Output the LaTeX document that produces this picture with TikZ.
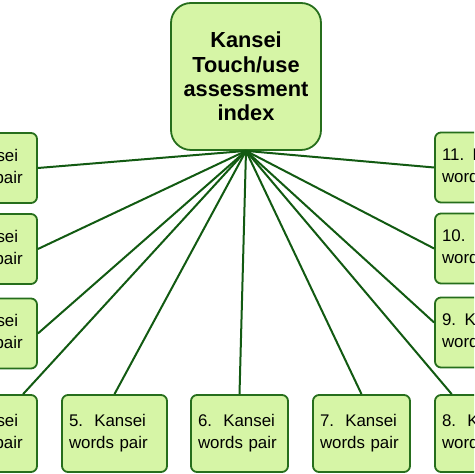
\documentclass[tikz,border=0pt]{standalone}
\usepackage{fontspec}
\setmainfont{Liberation Sans}
\usepackage{tikz}
\definecolor{verdechiaro}{RGB}{214,245,166}
\definecolor{verdebordo}{RGB}{38,110,28}
\definecolor{verdelinea}{RGB}{18,90,18}

\begin{document}
\begin{tikzpicture}
\tikzstyle{coppia} = [draw=verdebordo, line width=0.09cm, fill=verdechiaro, rounded corners=0.3cm, minimum width=5cm, minimum height=3.5cm, text width=4.3cm, inner xsep=0.35cm, align=left, font=\fontsize{24}{31}\selectfont]
\tikzstyle{basso} = [coppia, minimum width=4.85cm, text width=4.15cm, minimum height=3.85cm]
\tikzstyle{ramo} = [draw=verdelinea, line width=0.1cm]
\clip (0,0) rectangle (23.7,23.7);
\node[draw=verdebordo, line width=0.09cm, fill=verdechiaro, rounded corners=1cm, minimum width=7.5cm, minimum height=7.35cm, align=center, font=\bfseries\fontsize{31}{34.5}\selectfont] (v0) at (12.3,19.875) {Kansei\\Touch/use\\assessment\\index};
% colonna sinistra
\node[coppia] (v1) at (-0.65,15.3) {1. Kansei\\words pair};
\node[coppia] (v2) at (-0.65,11.25) {2. Kansei\\words pair};
\node[coppia] (v3) at (-0.65,7.025) {3. Kansei\\words pair};
\node[basso, minimum width=5cm, text width=4.3cm] (v4) at (-0.65,2.025) {4. Kansei\\words pair};
% riga in basso
\node[basso, minimum width=5.25cm, text width=4.55cm] (v5) at (5.725,2.025) {5.\ \ Kansei\\words pair};
\node[basso] (v6) at (11.975,2.025) {6.\ \ Kansei\\words pair};
\node[basso] (v7) at (18.075,2.025) {7.\ \ Kansei\\words pair};
\node[basso, minimum width=5cm, text width=4.3cm] (v8) at (24.25,2.025) {8.\ \ Kansei\\words pair};
% colonna destra
\node[coppia] (v9) at (24.25,7.075) {9. Kansei\\words pair};
\node[coppia] (v10) at (24.25,11.275) {10. Kansei\\words pair};
\node[coppia] (v11) at (24.25,15.325) {11. Kansei\\words pair};
\draw[ramo] (v0.south) -- (v1.east);
\draw[ramo] (v0.south) -- (v2.east);
\draw[ramo] (v0.south) -- (v3.east);
\draw[ramo] (v0.south) -- (v4);
\draw[ramo] (v0.south) -- (v5.north);
\draw[ramo] (v0.south) -- (v6.north);
\draw[ramo] (v0.south) -- (v7.north);
\draw[ramo] (v0.south) -- (v8);
\draw[ramo] (v0.south) -- ([yshift=0.5cm]v9.west);
\draw[ramo] (v0.south) -- (v10.west);
\draw[ramo] (v0.south) -- (v11.west);
\end{tikzpicture}
\end{document}
